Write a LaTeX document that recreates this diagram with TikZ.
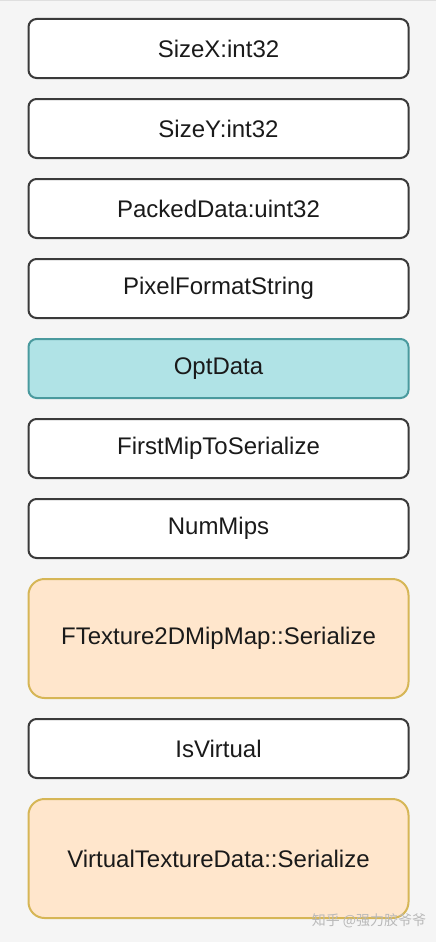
\documentclass[tikz,border=0pt]{standalone}
\usepackage{fontspec}
\setmainfont{Liberation Sans}
\newfontfamily\cjk{Noto Sans CJK SC}
\definecolor{bgc}{HTML}{F5F5F5}
\definecolor{strokec}{HTML}{3A3A3A}
\definecolor{tealfill}{HTML}{B0E3E6}
\definecolor{tealstroke}{HTML}{4A9A9E}
\definecolor{orfill}{HTML}{FFE6CC}
\definecolor{orstroke}{HTML}{D6B656}
\definecolor{txt}{HTML}{1A1A1A}
\tikzset{
  fieldbox/.style={draw=strokec, fill=white, line width=2pt, rounded corners=8pt,
    minimum width=380pt, minimum height=59pt, inner sep=0pt,
    font=\fontsize{24pt}{28pt}\selectfont, text=txt},
  tealbox/.style={fieldbox, draw=tealstroke, fill=tealfill},
  bigbox/.style={fieldbox, draw=orstroke, fill=orfill, minimum height=119pt, rounded corners=16pt},
  wmark/.style={font=\cjk\fontsize{14pt}{16pt}\selectfont, text=gray!55}
}
\begin{document}
\begin{tikzpicture}[x=1pt,y=1pt]
\fill[bgc] (0,0) rectangle (436,-942);
\useasboundingbox (0,0) rectangle (436,-942);
\draw[gray!25, line width=1pt] (0,-0.5) -- (436,-0.5);
\node[fieldbox] (sx) at (218.5,-48.5) {SizeX:int32};
\node[fieldbox] (sy) at (218.5,-128.5) {SizeY:int32};
\node[fieldbox] (pd) at (218.5,-208.5) {PackedData:uint32};
\node[fieldbox] (pf) at (218.5,-288.5) {PixelFormatString};
\node[tealbox] (od) at (218.5,-368.5) {OptData};
\node[fieldbox] (fm) at (218.5,-448.5) {FirstMipToSerialize};
\node[fieldbox] (nm) at (218.5,-528.5) {NumMips};
\node[bigbox] (ft) at (218.5,-638.5) {FTexture2DMipMap::Serialize};
\node[fieldbox] (iv) at (218.5,-748.5) {IsVirtual};
\node[bigbox] (vt) at (218.5,-858.5) {VirtualTextureData::Serialize};
\node[wmark, anchor=center] (wm) at (369,-921) {知乎 @强力胶爷爷};
\end{tikzpicture}
\end{document}
